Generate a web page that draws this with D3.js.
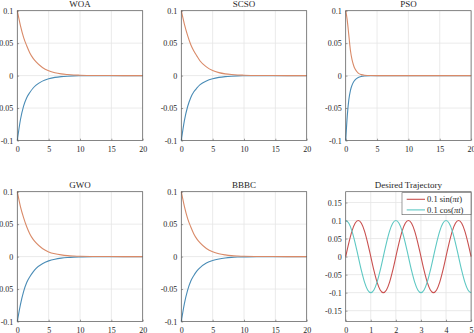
<!DOCTYPE html>
<html>
<head>
<meta charset="utf-8">
<script src="https://cdn.jsdelivr.net/npm/d3@7/dist/d3.min.js"></script>
<style>
  html, body { margin: 0; padding: 0; background: #fff; }
  svg { display: block; }
  text { font-family: "Liberation Serif", "Times New Roman", serif; fill: #262626; }
</style>
</head>
<body>
<svg id="chart" width="474" height="333"></svg>
<script>
// ---------- data ----------
const T = [0, 0.5, 1, 1.5, 2, 2.5, 3, 4, 5, 6, 7, 8, 9, 10, 12, 14, 17, 20];
const T_PSO = [0, 0.25, 0.5, 0.75, 1, 1.25, 1.5, 2, 2.5, 3, 4, 5, 10, 20];

const woaUp   = [0.1, 0.077, 0.059, 0.046, 0.035, 0.027, 0.021, 0.0125, 0.0074, 0.0044, 0.0026, 0.0016, 0.0009, 0.0006, 0.0002, 0.0001, 0, 0];
const woaDown = [-0.1, -0.068, -0.047, -0.034, -0.026, -0.0195, -0.0148, -0.0085, -0.0049, -0.0028, -0.0016, -0.0009, -0.0005, -0.0003, -0.0001, 0, 0, 0];

const scsoUp   = [0.1, 0.079, 0.062, 0.048, 0.038, 0.030, 0.0225, 0.0135, 0.0078, 0.0046, 0.0027, 0.0016, 0.0009, 0.0006, 0.0002, 0.0001, 0, 0];
const scsoDown = [-0.1, -0.069, -0.048, -0.034, -0.025, -0.019, -0.014, -0.0082, -0.0048, -0.0028, -0.0016, -0.0009, -0.0005, -0.0003, -0.0001, 0, 0, 0];

const psoUp   = [0.1, 0.085, 0.062, 0.039, 0.025, 0.016, 0.010, 0.0038, 0.0015, 0.0006, 0.0001, 0, 0, 0];
const psoDown = [-0.1, -0.062, -0.037, -0.023, -0.015, -0.0098, -0.0065, -0.0028, -0.0012, -0.0005, -0.0001, 0, 0, 0];

const gwoUp   = [0.1, 0.077, 0.060, 0.046, 0.035, 0.027, 0.021, 0.0125, 0.0072, 0.0043, 0.0026, 0.0015, 0.0009, 0.0005, 0.0002, 0.0001, 0, 0];
const gwoDown = [-0.1, -0.074, -0.054, -0.040, -0.031, -0.024, -0.018, -0.011, -0.0066, -0.004, -0.0024, -0.0014, -0.0008, -0.0005, -0.0002, -0.0001, 0, 0];

const bbbcUp   = [0.1, 0.077, 0.059, 0.046, 0.035, 0.027, 0.021, 0.0125, 0.0073, 0.0043, 0.0026, 0.0015, 0.0009, 0.0005, 0.0002, 0.0001, 0, 0];
const bbbcDown = [-0.1, -0.072, -0.052, -0.038, -0.029, -0.022, -0.017, -0.010, -0.006, -0.0036, -0.0021, -0.0012, -0.0007, -0.0004, -0.0001, 0, 0, 0];

const tDes = [0, 0.125, 0.25, 0.375, 0.5, 0.625, 0.75, 0.875, 1, 1.125, 1.25, 1.375, 1.5, 1.625, 1.75, 1.875,
              2, 2.125, 2.25, 2.375, 2.5, 2.625, 2.75, 2.875, 3, 3.125, 3.25, 3.375, 3.5, 3.625, 3.75, 3.875,
              4, 4.125, 4.25, 4.375, 4.5, 4.625, 4.75, 4.875, 5];
const sinDes = [0, 0.0383, 0.0707, 0.0924, 0.1, 0.0924, 0.0707, 0.0383, 0, -0.0383, -0.0707, -0.0924, -0.1, -0.0924, -0.0707, -0.0383,
                0, 0.0383, 0.0707, 0.0924, 0.1, 0.0924, 0.0707, 0.0383, 0, -0.0383, -0.0707, -0.0924, -0.1, -0.0924, -0.0707, -0.0383,
                0, 0.0383, 0.0707, 0.0924, 0.1, 0.0924, 0.0707, 0.0383, 0];
const cosDes = [0.1, 0.0924, 0.0707, 0.0383, 0, -0.0383, -0.0707, -0.0924, -0.1, -0.0924, -0.0707, -0.0383, 0, 0.0383, 0.0707, 0.0924,
                0.1, 0.0924, 0.0707, 0.0383, 0, -0.0383, -0.0707, -0.0924, -0.1, -0.0924, -0.0707, -0.0383, 0, 0.0383, 0.0707, 0.0924,
                0.1, 0.0924, 0.0707, 0.0383, 0, -0.0383, -0.0707, -0.0924, -0.1];

const titles = ["WOA", "SCSO", "PSO", "GWO", "BBBC", "Desired Trajectory"];
const convTicksX = [0, 5, 10, 15, 20];
const convTicksY = [-0.1, -0.05, 0, 0.05, 0.1];
const desTicksX = [0, 1, 2, 3, 4, 5];
const desTicksY = [-0.15, -0.1, -0.05, 0, 0.05, 0.1, 0.15];
const legendLabels = ["sin", "cos"];

// ---------- layout ----------
const svg = d3.select("#chart");
const colX = [17.3, 181.3, 345.7];
const rowY = [10.7, 191.7];
const W = 125.4, H = 129.8;
const C_BLUE = "#4a8cb6", C_ORANGE = "#d98a68", C_RED = "#c9504f", C_CYAN = "#5ec8c3";
const AX = "#5a5a5a", GRID = "#e4e4e4";

function fmt(v) {
  if (v === 0) return "0";
  return (v < 0 ? "-" : "") + String(Math.abs(v));
}

function panel(i, xDomain, yDomain, xTicks, yTicks, series) {
  const x0 = colX[i % 3], y0 = rowY[Math.floor(i / 3)];
  const g = svg.append("g").attr("transform", `translate(${x0},${y0})`);
  const x = d3.scaleLinear().domain(xDomain).range([0, W]);
  const y = d3.scaleLinear().domain(yDomain).range([H, 0]);

  g.append("g").selectAll("line").data(xTicks).join("line")
    .attr("x1", d => x(d)).attr("x2", d => x(d)).attr("y1", 0).attr("y2", H)
    .attr("stroke", GRID).attr("stroke-width", 0.8);
  g.append("g").selectAll("line").data(yTicks).join("line")
    .attr("x1", 0).attr("x2", W).attr("y1", d => y(d)).attr("y2", d => y(d))
    .attr("stroke", GRID).attr("stroke-width", 0.8);

  series.forEach(s => {
    const line = d3.line().x((d, k) => x(s.t[k])).y(d => y(d)).curve(d3.curveMonotoneX);
    g.append("path").attr("d", line(s.v)).attr("fill", "none")
      .attr("stroke", s.color).attr("stroke-width", 1.1);
  });

  const ax = d3.axisBottom(x).tickValues(xTicks).tickFormat(fmt).tickSize(-1.8).tickPadding(6);
  const ay = d3.axisLeft(y).tickValues(yTicks).tickFormat(fmt).tickSize(-1.8).tickPadding(4);
  const gx = g.append("g").attr("transform", `translate(0,${H})`).call(ax);
  const gy = g.append("g").call(ay);
  [gx, gy].forEach(a => {
    a.select(".domain").remove();
    a.selectAll(".tick line").attr("stroke", AX).attr("stroke-width", 0.6);
    a.selectAll(".tick text").attr("font-size", "8px")
      .attr("font-family", '"Liberation Serif", serif').attr("fill", "#262626");
  });
  gx.selectAll(".tick text").attr("dy", "0.71em");
  g.append("rect").attr("x", 0).attr("y", 0).attr("width", W).attr("height", H)
    .attr("fill", "none").attr("stroke", AX).attr("stroke-width", 0.7);

  g.append("text").attr("x", W / 2).attr("y", -3.8).attr("text-anchor", "middle")
    .attr("font-size", "9px").text(titles[i]);
  return { g, x, y };
}

const conv = [
  [woaDown, woaUp, T], [scsoDown, scsoUp, T], [psoDown, psoUp, T_PSO],
  [gwoDown, gwoUp, T], [bbbcDown, bbbcUp, T]
];
conv.forEach((c, i) => {
  panel(i, [0, 20], [-0.1, 0.1], convTicksX, convTicksY, [
    { t: c[2], v: c[0], color: C_BLUE },
    { t: c[2], v: c[1], color: C_ORANGE }
  ]);
});

const p = panel(5, [0, 5], [-0.18, 0.18], desTicksX, desTicksY, [
  { t: tDes, v: sinDes, color: C_RED },
  { t: tDes, v: cosDes, color: C_CYAN }
]);

// legend
const lg = p.g.append("g").attr("transform", `translate(${402 - colX[2]},${192.7 - rowY[1]})`);
lg.append("rect").attr("x", 0).attr("y", 0).attr("width", 69).attr("height", 22)
  .attr("fill", "#fff").attr("stroke", AX).attr("stroke-width", 0.6);
[C_RED, C_CYAN].forEach((c, k) => {
  const yy = 6.6 + k * 10.6;
  lg.append("line").attr("x1", 4.7).attr("x2", 23).attr("y1", yy).attr("y2", yy)
    .attr("stroke", c).attr("stroke-width", 1.1);
  const t = lg.append("text").attr("x", 25).attr("y", yy + 2.9).attr("font-size", "8.5px");
  t.append("tspan").text("0.1 " + legendLabels[k] + "(");
  t.append("tspan").attr("font-style", "italic").text("πt");
  t.append("tspan").text(")");
});
</script>
</body>
</html>
